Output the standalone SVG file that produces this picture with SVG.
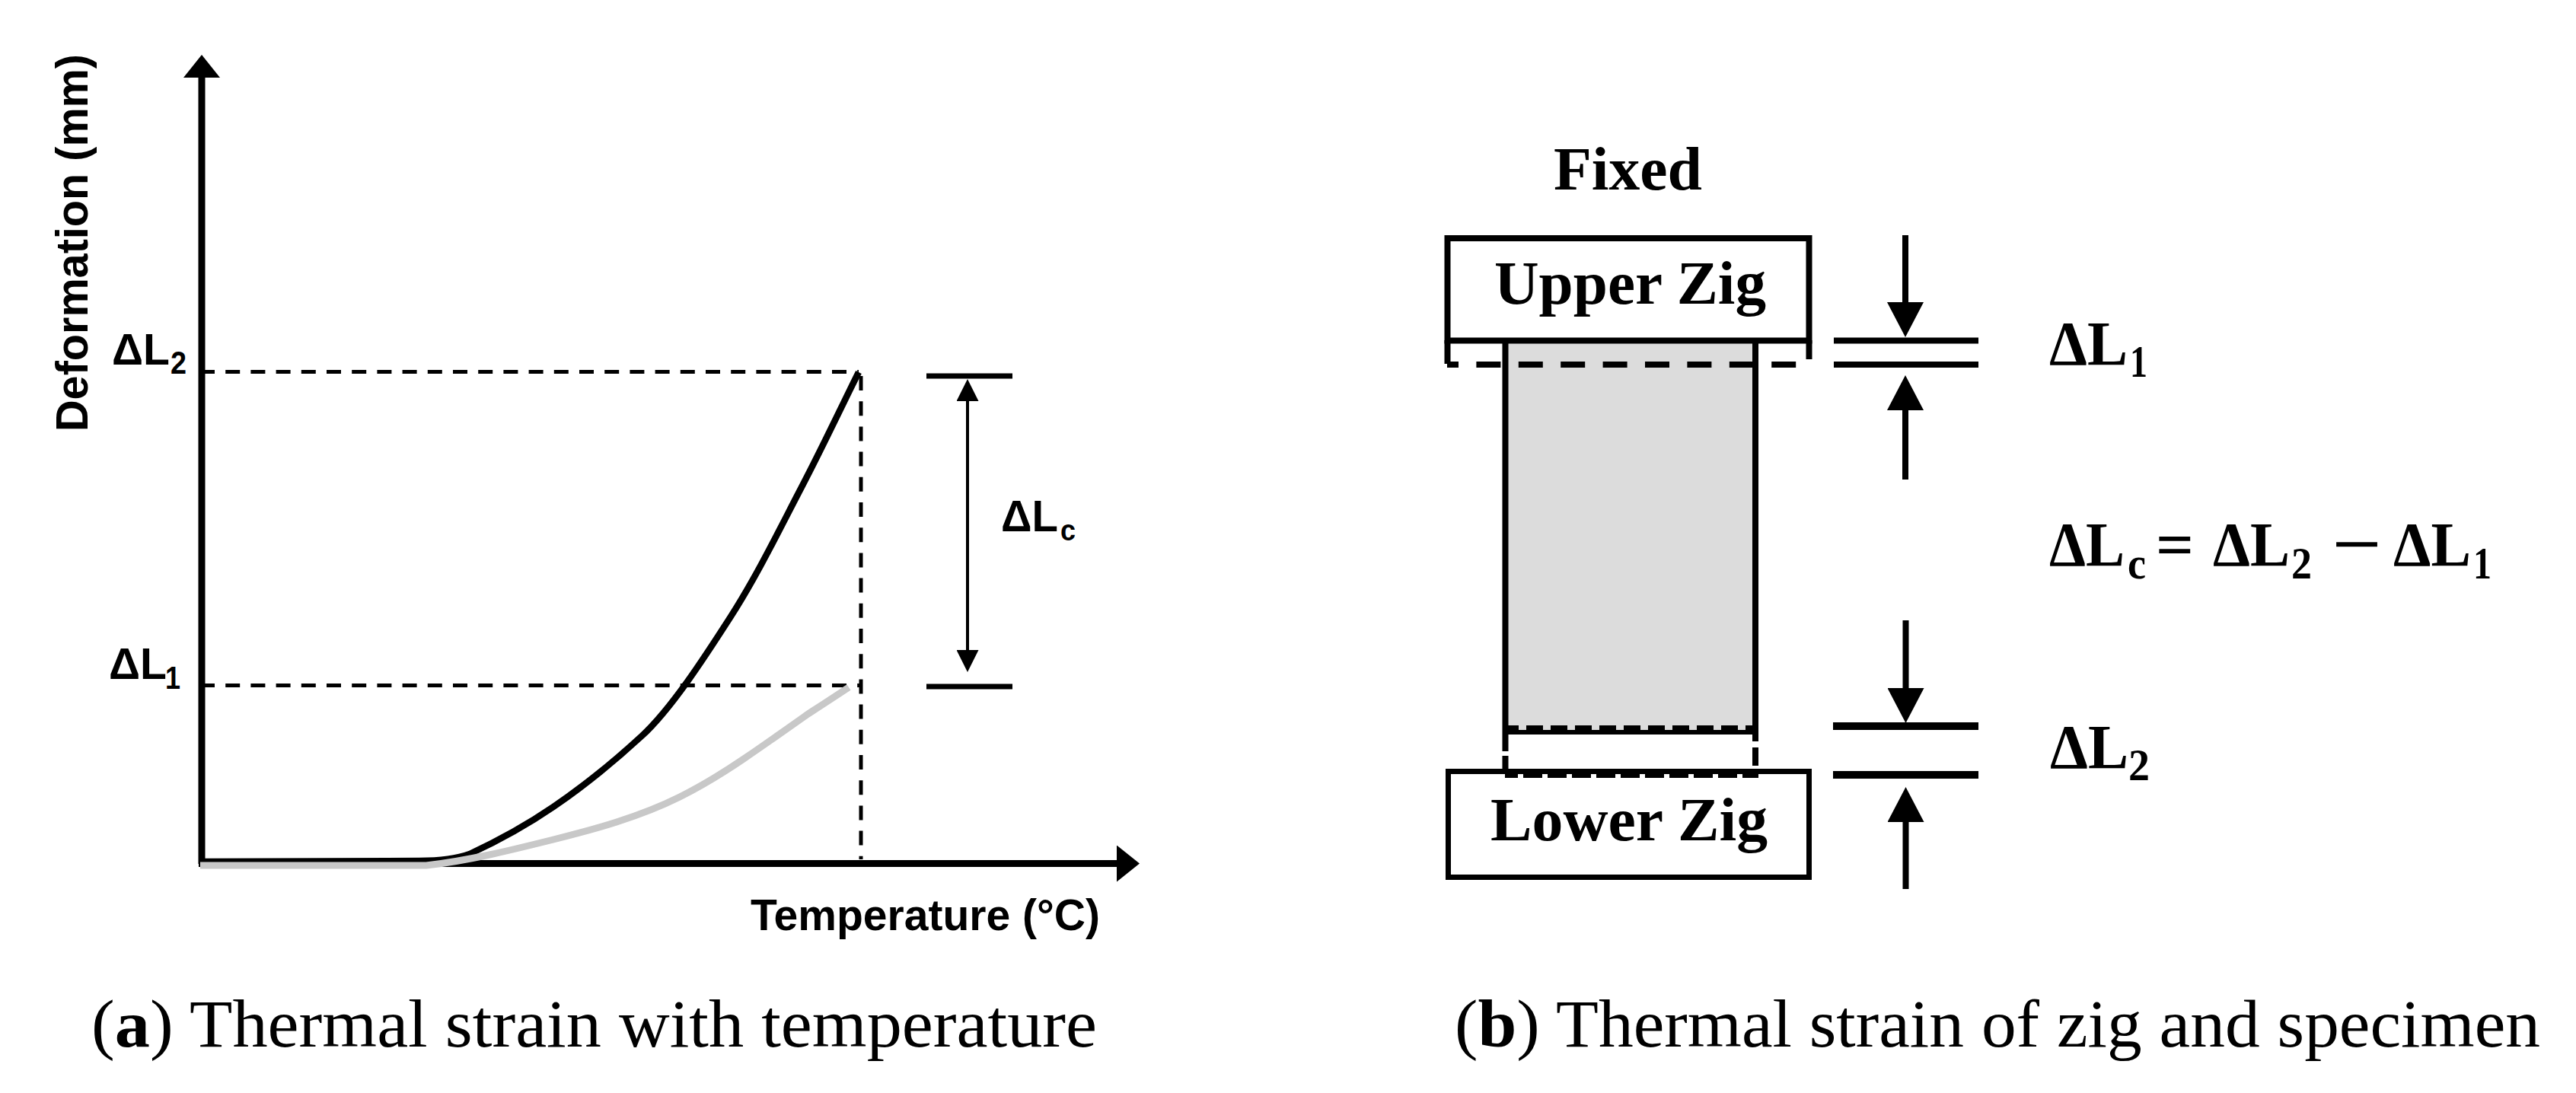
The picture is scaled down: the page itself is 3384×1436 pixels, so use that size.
<svg xmlns="http://www.w3.org/2000/svg" width="3384" height="1436" viewBox="0 0 3384 1436">
<defs>
<marker id="big" viewBox="0 -24 46 48" refX="0" refY="0" markerWidth="46" markerHeight="48" markerUnits="userSpaceOnUse" orient="auto"><path d="M0,-24L46,0L0,24Z" fill="#000"/></marker>
<marker id="mid" viewBox="0 -14.5 29 29" refX="0" refY="0" markerWidth="29" markerHeight="29" markerUnits="userSpaceOnUse" orient="auto-start-reverse"><path d="M0,-14.5L29,0L0,14.5Z" fill="#000"/></marker>
<marker id="axisY" viewBox="0 -24 30 48" refX="0" refY="0" markerWidth="30" markerHeight="48" markerUnits="userSpaceOnUse" orient="auto"><path d="M0,-24L30,0L0,24Z" fill="#000"/></marker>
</defs>
<style>
.ln{stroke:#000;fill:none}
.dash{stroke:#000;fill:none;stroke-width:5;stroke-dasharray:19 14.200}
.zig{fill:#fff;stroke:#000;stroke-width:8}
.sans{font-family:"Liberation Sans",Arial,sans-serif;font-weight:700;fill:#000}
.ser{font-family:"Liberation Serif","Times New Roman",serif;font-weight:700;fill:#000}
.cap{font-family:"Liberation Serif","Times New Roman",serif;font-size:88px;fill:#000}
</style>
<rect width="3384" height="1436" fill="#fff"/>

<g id="connectors">
<path class="dash" d="M263,488.500H1128"/>
<path class="dash" d="M263,900.500H1132"/>
<path class="dash" d="M1131,494V1129"/>
<path class="ln" d="M265,1135V102" marker-end="url(#axisY)" style="stroke-width:9"/>
<path class="ln" style="stroke-width:9" d="M261,1134.500H1467" marker-end="url(#axisY)"/>
<path class="ln" style="stroke-width:8.500" d="M265,1132L551,1131C572,1131 598,1129 617,1122C647,1108 689,1086 727,1060C765,1034 804,1003 843,967C882,931 925,864.500 960,810C995,755.500 1025,693.500 1053,640C1081,586.500 1105,535 1128,489"/>
<path class="ln" style="stroke:#c8c8c8;stroke-width:9" d="M263,1137L560,1137C588,1134 615,1129 643,1123C671,1117 699,1110 727,1103C755,1096 782,1089 810,1080C838,1071 865,1061 893,1047C921,1033 949,1016 977,997C1005,978 1036,956 1060,939C1080,926 1097,915 1115,903"/>
<path class="ln" style="stroke-width:7" d="M1217,494H1330M1217,902H1330"/>
<path class="ln" style="stroke-width:4" d="M1271,527V854" marker-start="url(#mid)" marker-end="url(#mid)"/>
<path class="ln" style="stroke-width:8" d="M2409,447.500H2599M2409,479H2599"/>
<path class="ln" style="stroke-width:8" d="M2503,309V397" marker-end="url(#big)"/>
<path class="ln" style="stroke-width:8" d="M2503,630V539" marker-end="url(#big)"/>
<path class="ln" style="stroke-width:10" d="M2408,954H2599M2408,1018H2599"/>
<path class="ln" style="stroke-width:8" d="M2503.500,815V904" marker-end="url(#big)"/>
<path class="ln" style="stroke-width:8" d="M2503.500,1168V1080" marker-end="url(#big)"/>
</g>

<g id="panel-a-labels">
<text class="sans" font-size="60" transform="translate(115,567) rotate(-90)" textLength="496" lengthAdjust="spacingAndGlyphs">Deformation (mm)</text>
<text class="sans" font-size="58" x="147" y="479" textLength="76" lengthAdjust="spacingAndGlyphs">ΔL</text>
<text class="sans" font-size="42" x="224" y="491" textLength="21" lengthAdjust="spacingAndGlyphs">2</text>
<text class="sans" font-size="58" x="143" y="892" textLength="76" lengthAdjust="spacingAndGlyphs">ΔL</text>
<text class="sans" font-size="42" x="217" y="905" textLength="20" lengthAdjust="spacingAndGlyphs">1</text>
<text class="sans" font-size="57" x="1315" y="698" textLength="75" lengthAdjust="spacingAndGlyphs">ΔL</text>
<text class="sans" font-size="38" x="1393" y="710" textLength="20" lengthAdjust="spacingAndGlyphs">c</text>
<text class="sans" font-size="58" x="986" y="1222" textLength="459" lengthAdjust="spacingAndGlyphs">Temperature (°C)</text>
<text class="cap" x="120" y="1375" textLength="1321" lengthAdjust="spacingAndGlyphs">(<tspan font-weight="700">a</tspan>) Thermal strain with temperature</text>
</g>

<g id="specimen">
<rect x="1977" y="447" width="328" height="513" fill="#dcdcdc"/>
<path class="ln" style="stroke-width:8" d="M1977.500,447V987M1977.500,993V1011M2306,447V974M2306,982V1006"/>
<path class="ln" style="stroke-width:6;" d="M1977,962H2306"/>
<path class="ln" style="stroke-width:6;stroke-dasharray:22 10;stroke-dashoffset:4" d="M1977,956H2306"/>
</g>

<g id="upper-zig">
<rect class="zig" x="1901.500" y="313" width="475" height="134.500"/>
<path class="ln" style="stroke-width:8" d="M1901.500,447V478M2376.500,447V472"/>
<path class="ln" style="stroke-width:8;stroke-dasharray:32 23.400;stroke-dashoffset:17" d="M1901,479H2361"/>
<text class="ser" font-size="80" x="1963" y="399" textLength="357" lengthAdjust="spacingAndGlyphs">Upper Zig</text>
</g>

<g id="lower-zig">
<rect class="zig" style="stroke-width:7" x="1902.500" y="1013.500" width="474" height="139"/>
<path class="ln" style="stroke-width:5;stroke-dasharray:25 7;stroke-dashoffset:8" d="M1977,1019.500H2310"/>
<text class="ser" font-size="80" x="1958" y="1104" textLength="364" lengthAdjust="spacingAndGlyphs">Lower Zig</text>
</g>

<g id="panel-b-labels">
<text class="ser" font-size="80" x="2041" y="249" textLength="195" lengthAdjust="spacingAndGlyphs">Fixed</text>
<text class="ser" font-size="83" x="2692" y="479" textLength="103" lengthAdjust="spacingAndGlyphs">ΔL</text>
<text class="ser" font-size="60" x="2798" y="495" textLength="23" lengthAdjust="spacingAndGlyphs">1</text>
<text class="ser" font-size="83" x="2692" y="743" textLength="99" lengthAdjust="spacingAndGlyphs">ΔL</text>
<text class="ser" font-size="60" x="2795" y="760" textLength="24" lengthAdjust="spacingAndGlyphs">c</text>
<text class="ser" font-size="83" x="2832" y="743" textLength="50" lengthAdjust="spacingAndGlyphs">=</text>
<text class="ser" font-size="83" x="2907" y="743" textLength="101" lengthAdjust="spacingAndGlyphs">ΔL</text>
<text class="ser" font-size="60" x="3010" y="760" textLength="27" lengthAdjust="spacingAndGlyphs">2</text>
<text class="ser" font-size="83" x="3063" y="743" textLength="66" lengthAdjust="spacingAndGlyphs">−</text>
<text class="ser" font-size="83" x="3144" y="743" textLength="102" lengthAdjust="spacingAndGlyphs">ΔL</text>
<text class="ser" font-size="60" x="3249" y="760" textLength="24" lengthAdjust="spacingAndGlyphs">1</text>
<text class="ser" font-size="83" x="2693" y="1009" textLength="103" lengthAdjust="spacingAndGlyphs">ΔL</text>
<text class="ser" font-size="60" x="2796" y="1025" textLength="28" lengthAdjust="spacingAndGlyphs">2</text>
<text class="cap" x="1911" y="1375" textLength="1426" lengthAdjust="spacingAndGlyphs">(<tspan font-weight="700">b</tspan>) Thermal strain of zig and specimen</text>
</g>
</svg>
